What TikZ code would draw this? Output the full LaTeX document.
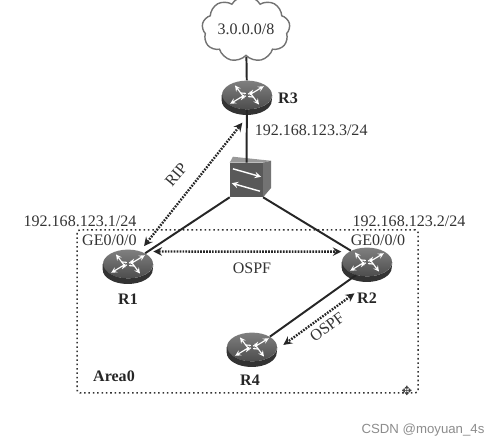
\documentclass[tikz,border=0pt]{standalone}
\usepackage{fontspec}
\setmainfont{Liberation Serif}
\newfontfamily\marksf{Liberation Sans}
\newfontfamily\cursorsf{DejaVu Sans}
\usetikzlibrary{shapes.geometric,shapes.symbols}
\definecolor{routertop}{gray}{0.5}
\definecolor{routerlow}{gray}{0.3}
\definecolor{routerside}{gray}{0.2}
\definecolor{wire}{gray}{0.15}
\begin{document}
\begin{tikzpicture}[
    label/.style={font=\fontsize{11.4}{13}\selectfont, text=black!80, inner sep=0pt},
    tag/.style={font=\fontsize{11.4}{13}\selectfont\bfseries, text=black!85, inner sep=0pt},
    router/.style={ellipse, top color=routertop, bottom color=routerlow, inner sep=0pt,
                   minimum width=1.25cm, minimum height=0.72cm},
    link/.style={line width=1.4pt, draw=wire},
    flow/.style={<->, >=stealth, line width=1.7pt, draw=wire,
                 dash pattern=on 1.2pt off 0.9pt},
    glyph/.style={->, >=stealth, white, line width=0.8pt}
]
    \useasboundingbox (0,0) rectangle (12.6,11.175);

    % Area-kader
    \node[draw=black!80, line width=1.1pt, dotted, rounded corners=2pt,
          minimum width=8.525cm, minimum height=4.075cm, inner sep=0pt] (area) at (6.19, 3.39) {};

    % Wolk
    \node[cloud, cloud puffs=9, cloud puff arc=120, aspect=1.5, draw=black!55, line width=1pt,
          fill=white, minimum width=2.2cm, minimum height=1.45cm, inner sep=0pt,
          font=\fontsize{11.4}{13}\selectfont, text=black!80] (net) at (6.15, 10.45) {3.0.0.0/8};

    % Routers
    \foreach \name/\pos in {r1/{3.2,4.575}, r2/{9.175,4.625}, r3/{6.175,8.8}, r4/{6.3,2.5}} {
        \node[router] (\name) at (\pos) {};
        \fill[routerside] (\name.west) -- ++(0,-0.14)
            arc[start angle=180, end angle=360, x radius=0.625cm, y radius=0.36cm]
            -- (\name.east) arc[start angle=0, end angle=-180, x radius=0.625cm, y radius=0.36cm] -- cycle;
        \begin{scope}[shift={(\pos)}]
            \draw[glyph] (0.03,0.02) -- (0.12,0.09) -- (0.09,0.02) -- (0.42,0.22);
            \draw[glyph] (-0.03,-0.02) -- (-0.12,-0.09) -- (-0.09,-0.02) -- (-0.42,-0.22);
            \draw[glyph] (0.03,-0.04) -- (0.14,-0.05) -- (0.12,0) -- (0.3,-0.24);
            \draw[glyph] (-0.03,0.04) -- (-0.14,0.05) -- (-0.12,0) -- (-0.3,0.24);
        \end{scope}
    }

    % Switch
    \node[fill=black!65, inner sep=0pt, minimum width=0.82cm, minimum height=0.85cm] (sw) at (6.16, 6.675) {};
    \fill[black!40] (sw.north west) -- ++(0.08,0.15) -- ++(0.94,-0.1) -- (sw.north east) -- cycle;
    \fill[black!55] (sw.north east) -- ++(0.2,0.05) -- ++(0,-0.68) -- (sw.south east) -- cycle;
    \draw[glyph, line width=1pt] ([shift={(0.08,0.28)}]sw.west) -- ([shift={(-0.05,0.08)}]sw.east);
    \draw[glyph, line width=1pt] ([shift={(-0.08,-0.28)}]sw.east) -- ([shift={(0.05,-0.08)}]sw.west);

    % Verbindingen
    \draw[link] (net) -- (r3);
    \draw[link] (r3) -- (sw);
    \draw[link] (sw.south west) -- (r1.32);
    \draw[link] (sw.south east) -- (r2.145);
    \draw[link] (r2.230) -- (r4.30);

    % Protocollen
    \draw[flow, shorten <=0.16cm, shorten >=0.43cm] (r1.47) -- (r3.293);
    \draw[flow, shorten <=0.3cm, shorten >=0.19cm] (r1.43) -- (r2.150);
    \draw[flow, shorten <=0.81cm, shorten >=0.2cm] (r2.318) -- (r4.354);

    \node[label, rotate=50] (rip) at (4.4, 6.8) {RIP};
    \node[label] (ospfa) at (6.3, 4.475) {OSPF};
    \node[label, rotate=37] (ospfb) at (8.175, 3.0) {OSPF};

    % Adressen
    \node[label] (ipthree) at (7.78, 7.925) {192.168.123.3/24};
    \node[label] (ipone) at (2.0, 5.65) {192.168.123.1/24};
    \node[label] (iptwo) at (10.225, 5.65) {192.168.123.2/24};
    \node[label] (geone) at (2.735, 5.175) {GE0/0/0};
    \node[label] (getwo) at (9.45, 5.175) {GE0/0/0};

    \node[tag] (tagone) at (3.2, 3.7) {R1};
    \node[tag] (tagtwo) at (9.175, 3.725) {R2};
    \node[tag] (tagthree) at (7.2, 8.725) {R3};
    \node[tag] (tagfour) at (6.25, 1.675) {R4};
    \node[tag] (areaname) at (2.85, 1.775) {Area0};

    \node[font=\cursorsf\fontsize{9}{9}\selectfont, text=black!75, inner sep=0pt] (cursor) at (10.175, 1.4) {✥};
    \node[font=\marksf\fontsize{9.4}{10}\selectfont, text=black!45, inner sep=0pt] (mark) at (10.575, 0.425) {CSDN @moyuan\_4s};
\end{tikzpicture}
\end{document}
